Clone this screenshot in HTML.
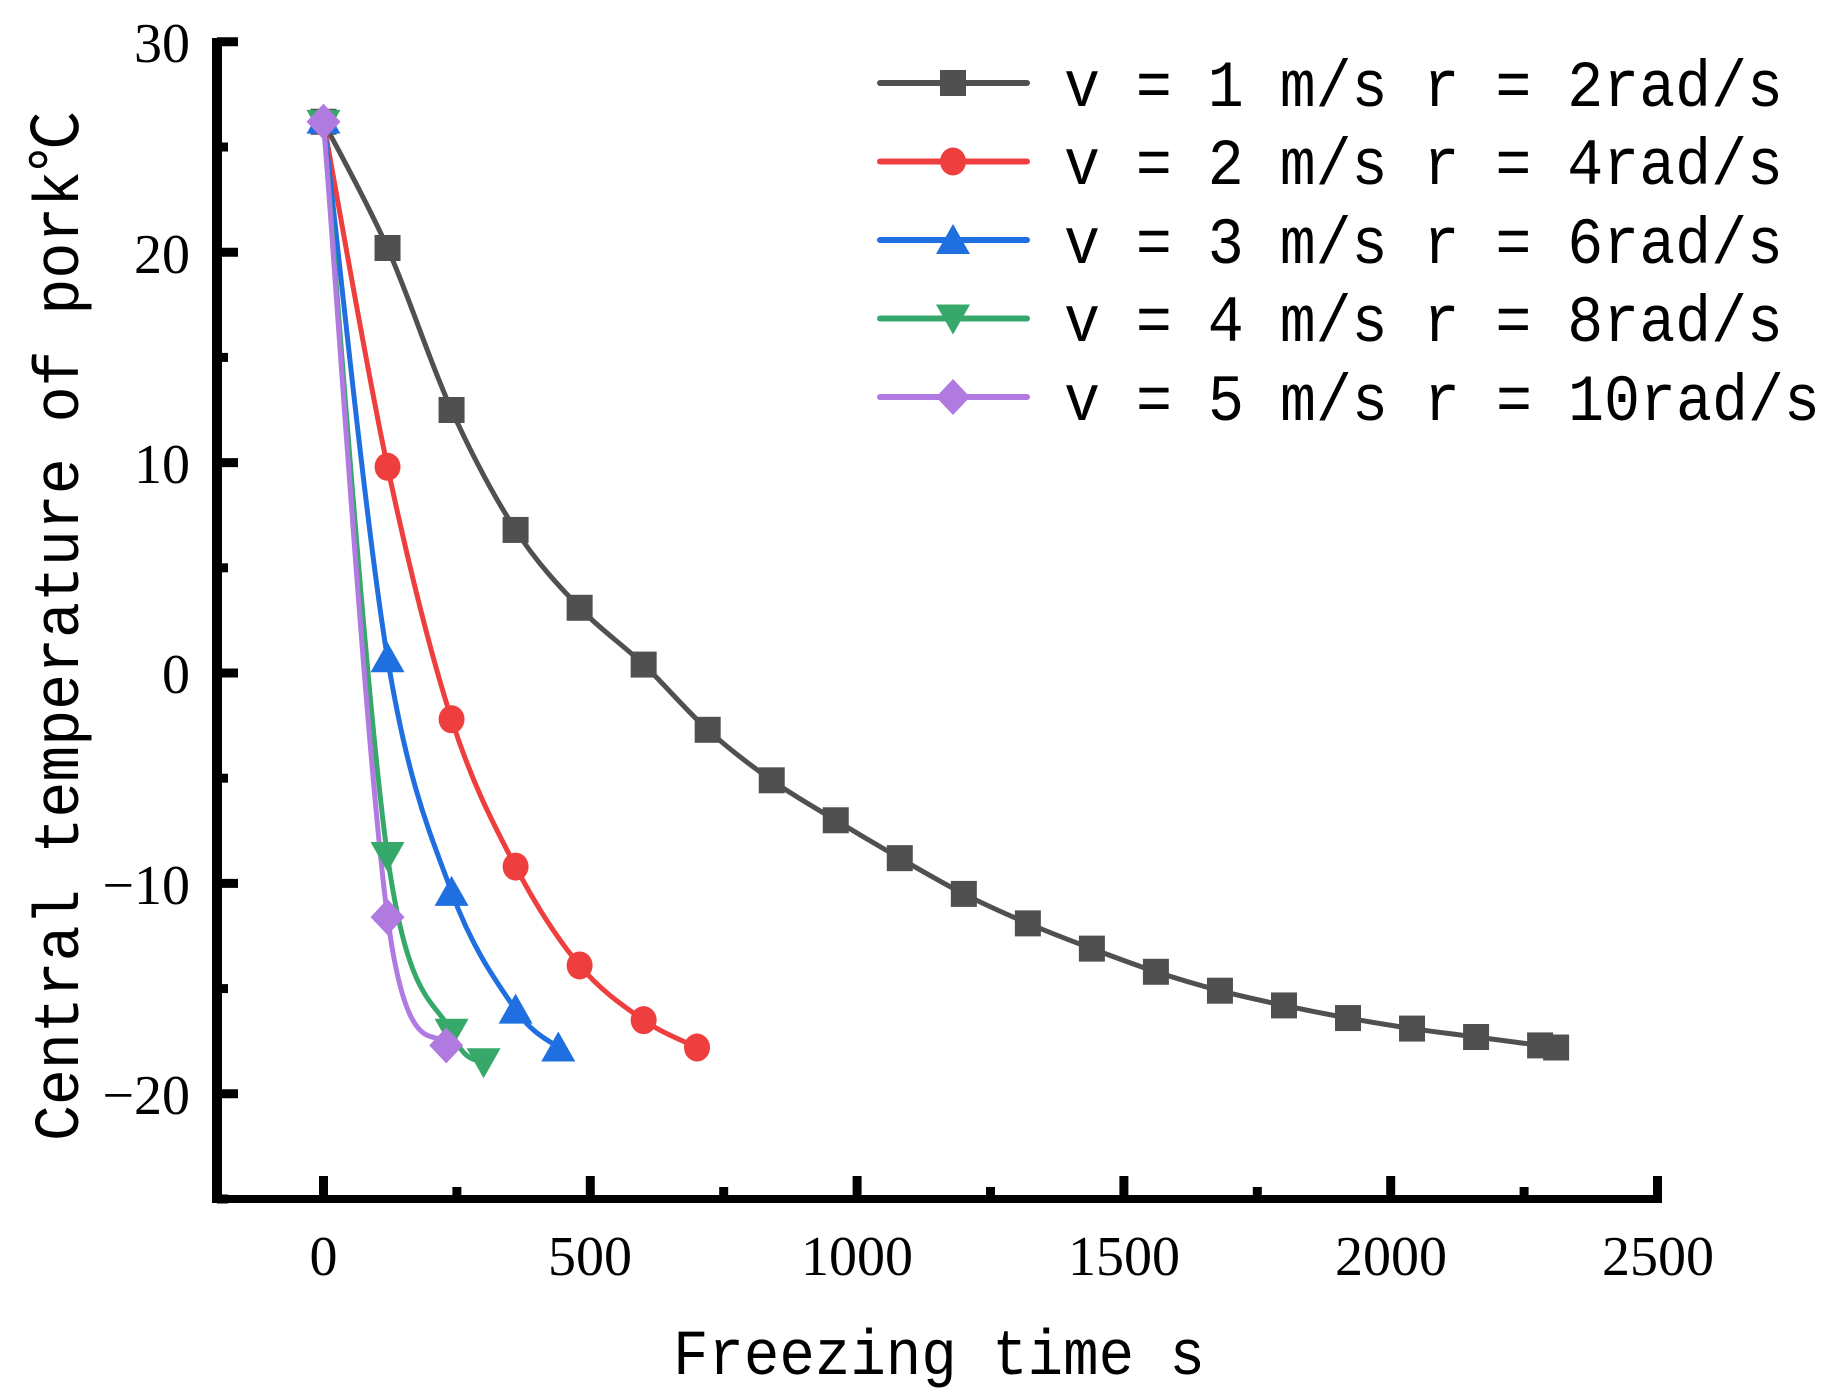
<!DOCTYPE html>
<html><head><meta charset="utf-8"><style>html,body{margin:0;padding:0;background:#fff}svg{display:block}</style></head>
<body>
<svg id="s" width="1825" height="1392" viewBox="0 0 1825 1392" xmlns="http://www.w3.org/2000/svg">
<rect width="1825" height="1392" fill="#fff"/>
<g id="axes" stroke="#000" fill="none"></g>
<g font-family="Liberation Serif, serif" font-size="56" fill="#000" text-anchor="end">
<text x="190" y="62">30</text>
<text x="190" y="273">20</text>
<text x="190" y="483">10</text>
<text x="190" y="693">0</text>
<text x="190" y="904">−10</text>
<text x="190" y="1114">−20</text>
</g>
<g font-family="Liberation Serif, serif" font-size="56" fill="#000" text-anchor="middle">
<text x="323.5" y="1275">0</text>
<text x="590" y="1275">500</text>
<text x="857" y="1275">1000</text>
<text x="1124" y="1275">1500</text>
<text x="1391" y="1275">2000</text>
<text x="1658" y="1275">2500</text>
</g>
<text x="673" y="1374" font-family="Liberation Mono, monospace" font-size="64" textLength="532" lengthAdjust="spacingAndGlyphs">Freezing time s</text>
<text transform="translate(78,1141) rotate(-90)" x="0" y="0" font-family="Liberation Mono, 'Noto Sans CJK SC', monospace" font-size="64" textLength="1030" lengthAdjust="spacingAndGlyphs">Central temperature of pork℃</text>
<g id="series"></g>
<g id="legend"></g>
<g font-family="Liberation Mono, monospace" font-size="66" fill="#000">
<text x="1064" y="106" textLength="719" lengthAdjust="spacingAndGlyphs">v = 1 m/s r = 2rad/s</text>
<text x="1064" y="184" textLength="719" lengthAdjust="spacingAndGlyphs">v = 2 m/s r = 4rad/s</text>
<text x="1064" y="263" textLength="719" lengthAdjust="spacingAndGlyphs">v = 3 m/s r = 6rad/s</text>
<text x="1064" y="341" textLength="719" lengthAdjust="spacingAndGlyphs">v = 4 m/s r = 8rad/s</text>
<text x="1064" y="420" textLength="756" lengthAdjust="spacingAndGlyphs">v = 5 m/s r = 10rad/s</text>
</g>
</svg>
<script>
(function(){
var NS="http://www.w3.org/2000/svg";
function px(x){return 323.5+x*0.5336;}
function py(y){return 673-y*21.04;}
function el(t,a,p){var e=document.createElementNS(NS,t);for(var k in a)e.setAttribute(k,a[k]);p.appendChild(e);return e;}
var ax=document.getElementById('axes');
el('line',{x1:217,y1:38,x2:217,y2:1203,'stroke-width':10},ax);
el('line',{x1:212,y1:1199,x2:1662,y2:1199,'stroke-width':8},ax);
for(var v=30;v>=-25;v-=5){var maj=(v%10===0);el('line',{x1:217,y1:py(v),x2:maj?238:228,y2:py(v),'stroke-width':9},ax);}
for(var x=0;x<=2500;x+=250){var maj=(x%500===0);el('line',{x1:px(x),y1:1199,x2:px(x),y2:maj?1176:1187,'stroke-width':9},ax);}
var S=[
{c:'#505050',m:'sq',d:[[0,26.2],[120,20.2],[240,12.5],[360,6.8],[480,3.1],[600,0.4],[720,-2.7],[840,-5.1],[960,-7.0],[1080,-8.8],[1200,-10.5],[1320,-11.9],[1440,-13.1],[1560,-14.2],[1680,-15.1],[1800,-15.8],[1920,-16.4],[2040,-16.9],[2160,-17.3],[2280,-17.7],[2310,-17.8]]},
{c:'#ee3e3e',m:'ci',d:[[0,26.2],[120,9.8],[240,-2.2],[360,-9.2],[480,-13.9],[600,-16.5],[700,-17.8]]},
{c:'#1f6fe0',m:'up',d:[[0,26.3],[120,0.7],[240,-10.4],[360,-16.0],[440,-17.8]]},
{c:'#36a86a',m:'dn',d:[[0,26.1],[120,-8.7],[240,-17.1],[300,-18.5]]},
{c:'#b07ae0',m:'di',d:[[0,26.2],[120,-11.6],[230,-17.7]]}];
var g=document.getElementById('series'),lg=document.getElementById('legend');
function marker(t,x,y,c,p){
 if(t==='sq')el('rect',{x:x-13,y:y-13,width:26,height:26,fill:c},p);
 else if(t==='ci')el('ellipse',{cx:x,cy:y,rx:13,ry:14,fill:c},p);
 else if(t==='up')el('polygon',{points:(x)+','+(y-16)+' '+(x-17)+','+(y+14)+' '+(x+17)+','+(y+14),fill:c},p);
 else if(t==='dn')el('polygon',{points:(x)+','+(y+16)+' '+(x-17)+','+(y-14)+' '+(x+17)+','+(y-14),fill:c},p);
 else el('polygon',{points:x+','+(y-18)+' '+(x+17)+','+y+' '+x+','+(y+18)+' '+(x-17)+','+y,fill:c},p);
}
S.forEach(function(s){
 var P=s.d.map(function(q){return [px(q[0]),py(q[1])];});
 var d='M'+P[0][0]+','+P[0][1];
 for(var i=0;i<P.length-1;i++){
  var p0=P[i-1]||P[i],p1=P[i],p2=P[i+1],p3=P[i+2]||P[i+1];
  var c1=[p1[0]+(p2[0]-p0[0])/6,p1[1]+(p2[1]-p0[1])/6];
  var c2=[p2[0]-(p3[0]-p1[0])/6,p2[1]-(p3[1]-p1[1])/6];
  d+=' C'+c1+' '+c2+' '+p2;
 }
 el('path',{d:d,fill:'none',stroke:s.c,'stroke-width':5,'stroke-linejoin':'round'},g);
});
S.forEach(function(s){s.d.forEach(function(q){marker(s.m,px(q[0]),py(q[1]),s.c,g);});});
var ly=[83,161.5,240,318.5,397];
S.forEach(function(s,i){
 el('line',{x1:880,y1:ly[i],x2:1027,y2:ly[i],stroke:s.c,'stroke-width':6,'stroke-linecap':'round'},lg);
 marker(s.m,953,ly[i],s.c,lg);
});
})();
</script>
</body></html>
